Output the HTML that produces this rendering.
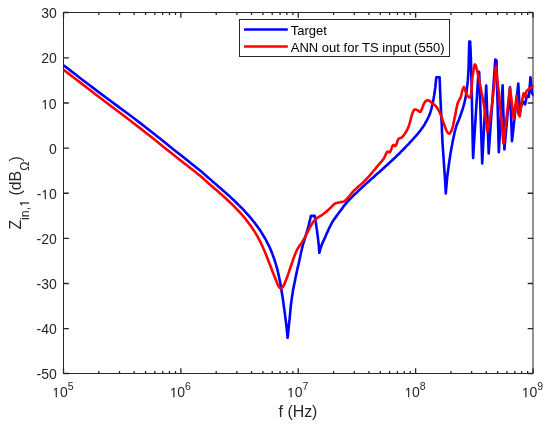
<!DOCTYPE html>
<html><head><meta charset="utf-8"><title>Zin plot</title>
<style>html,body{margin:0;padding:0;background:#fff;}body{width:550px;height:428px;overflow:hidden;}svg{display:block;}</style>
</head><body>
<svg width="550" height="428" viewBox="0 0 550 428"><rect x="0" y="0" width="550" height="428" fill="#fff"/><defs><clipPath id="c"><rect x="63.0" y="12.0" width="470.5" height="362.0"/></clipPath></defs><path d="M63.50,373.5v-5.3M63.50,12.5v5.3M98.83,373.5v-2.6M98.83,12.5v2.6M119.50,373.5v-2.6M119.50,12.5v2.6M134.17,373.5v-2.6M134.17,12.5v2.6M145.54,373.5v-2.6M145.54,12.5v2.6M154.84,373.5v-2.6M154.84,12.5v2.6M162.69,373.5v-2.6M162.69,12.5v2.6M169.50,373.5v-2.6M169.50,12.5v2.6M175.50,373.5v-2.6M175.50,12.5v2.6M180.88,373.5v-5.3M180.88,12.5v5.3M216.21,373.5v-2.6M216.21,12.5v2.6M236.88,373.5v-2.6M236.88,12.5v2.6M251.54,373.5v-2.6M251.54,12.5v2.6M262.92,373.5v-2.6M262.92,12.5v2.6M272.21,373.5v-2.6M272.21,12.5v2.6M280.07,373.5v-2.6M280.07,12.5v2.6M286.88,373.5v-2.6M286.88,12.5v2.6M292.88,373.5v-2.6M292.88,12.5v2.6M298.25,373.5v-5.3M298.25,12.5v5.3M333.58,373.5v-2.6M333.58,12.5v2.6M354.25,373.5v-2.6M354.25,12.5v2.6M368.92,373.5v-2.6M368.92,12.5v2.6M380.29,373.5v-2.6M380.29,12.5v2.6M389.59,373.5v-2.6M389.59,12.5v2.6M397.44,373.5v-2.6M397.44,12.5v2.6M404.25,373.5v-2.6M404.25,12.5v2.6M410.25,373.5v-2.6M410.25,12.5v2.6M415.62,373.5v-5.3M415.62,12.5v5.3M450.96,373.5v-2.6M450.96,12.5v2.6M471.63,373.5v-2.6M471.63,12.5v2.6M486.29,373.5v-2.6M486.29,12.5v2.6M497.67,373.5v-2.6M497.67,12.5v2.6M506.96,373.5v-2.6M506.96,12.5v2.6M514.82,373.5v-2.6M514.82,12.5v2.6M521.63,373.5v-2.6M521.63,12.5v2.6M527.63,373.5v-2.6M527.63,12.5v2.6M533.00,373.5v-5.3M533.00,12.5v5.3M63.5,12.5h5.3M533.0,12.5h-5.3M63.5,57.875h5.3M533.0,57.875h-5.3M63.5,103.0h5.3M533.0,103.0h-5.3M63.5,148.125h5.3M533.0,148.125h-5.3M63.5,193.25h5.3M533.0,193.25h-5.3M63.5,238.375h5.3M533.0,238.375h-5.3M63.5,283.5h5.3M533.0,283.5h-5.3M63.5,328.625h5.3M533.0,328.625h-5.3M63.5,373.5h5.3M533.0,373.5h-5.3" stroke="#262626" stroke-width="1.3" fill="none"/><rect x="63.5" y="12.5" width="469.5" height="361.0" fill="none" stroke="#262626" stroke-width="1"/><g clip-path="url(#c)" fill="none" stroke-linejoin="round" stroke-linecap="butt" stroke-width="2.6"><polyline stroke="#0000ff" points="63.5,65.3 69.6,69.9 75.6,74.5 81.6,79.2 87.7,83.8 93.8,88.4 100.0,93.1 106.6,98.0 113.2,102.9 119.9,107.9 126.6,112.8 133.3,117.8 140.0,122.9 146.9,128.2 153.9,133.7 160.9,139.3 167.7,144.8 174.1,149.9 180.0,154.6 183.8,157.6 187.3,160.3 190.6,163.0 193.8,165.5 196.9,168.0 200.1,170.6 203.1,173.1 206.1,175.8 209.2,178.4 212.0,180.9 214.7,183.2 217.0,185.2 218.1,186.2 219.1,187.1 220.1,187.9 221.0,188.7 221.9,189.5 222.9,190.4 224.3,191.6 225.6,192.8 227.0,194.0 228.4,195.3 229.9,196.6 231.3,197.9 232.7,199.3 234.2,200.6 235.6,202.0 237.1,203.5 238.5,204.9 240.0,206.3 241.4,207.7 242.8,209.2 244.2,210.7 245.5,212.1 246.9,213.6 248.1,215.0 249.2,216.2 250.2,217.4 251.2,218.6 252.2,219.8 253.1,221.0 254.1,222.2 255.2,223.5 256.2,224.9 257.2,226.3 258.2,227.7 259.2,229.1 260.2,230.5 261.0,231.7 261.7,232.9 262.4,234.0 263.1,235.2 263.8,236.3 264.5,237.5 265.2,238.7 265.9,239.9 266.5,241.1 267.1,242.3 267.7,243.5 268.3,244.6 268.7,245.4 269.1,246.2 269.5,247.0 269.8,247.7 270.2,248.6 270.6,249.5 271.2,251.1 272.0,252.9 272.7,254.9 273.5,256.9 274.2,259.0 274.9,261.0 275.5,263.0 276.1,265.1 276.7,267.2 277.3,269.3 277.8,271.4 278.3,273.6 278.8,275.9 279.3,278.3 279.8,280.7 280.3,283.1 280.7,285.6 281.1,288.0 281.5,290.5 281.9,293.0 282.3,295.5 282.7,298.0 283.1,300.5 283.4,302.9 283.7,305.1 284.0,307.2 284.3,309.4 284.6,311.5 284.9,313.6 285.1,315.7 285.4,317.9 285.7,320.1 286.0,322.3 286.2,324.5 286.5,326.6 286.7,328.6 286.9,330.2 287.0,331.8 287.2,333.3 287.3,334.8 287.5,336.3 287.6,337.8 287.8,336.3 287.9,334.8 288.1,333.3 288.3,331.8 288.4,330.2 288.6,328.6 288.8,326.6 289.0,324.5 289.2,322.3 289.5,320.1 289.7,317.9 289.9,315.7 290.1,313.6 290.3,311.4 290.5,309.3 290.7,307.2 290.9,305.0 291.2,302.9 291.5,300.7 291.8,298.4 292.1,296.2 292.5,294.0 292.8,291.9 293.1,290.0 293.3,288.8 293.5,287.7 293.7,286.7 293.9,285.7 294.2,284.6 294.4,283.4 294.8,281.5 295.2,279.5 295.6,277.3 296.1,275.1 296.6,272.9 297.0,270.8 297.4,269.0 297.8,267.1 298.3,265.4 298.7,263.6 299.1,261.8 299.5,260.0 299.9,258.1 300.3,256.2 300.7,254.3 301.0,252.5 301.5,250.6 301.9,248.7 302.4,246.9 302.9,245.0 303.4,243.2 304.0,241.4 304.6,239.6 305.1,237.8 305.6,236.0 306.2,234.2 306.7,232.4 307.3,230.5 307.8,228.7 308.3,226.9 308.8,225.1 309.2,223.2 309.6,221.4 310.1,219.6 310.5,217.7 310.9,215.9 314.7,215.9 315.0,217.9 315.3,219.9 315.7,221.9 316.0,223.9 316.3,226.0 316.6,228.1 317.0,230.6 317.3,233.3 317.7,236.0 318.0,238.7 318.3,241.2 318.6,243.6 318.8,245.3 318.9,246.8 319.0,248.3 319.1,249.8 319.2,251.3 319.3,252.8 319.7,251.6 320.0,250.4 320.3,249.2 320.7,247.9 321.1,246.7 321.5,245.5 322.0,244.2 322.6,242.9 323.1,241.6 323.7,240.3 324.4,238.9 325.0,237.5 325.8,235.7 326.6,233.8 327.5,231.9 328.3,230.0 329.2,228.2 330.0,226.5 330.6,225.3 331.2,224.2 331.7,223.2 332.3,222.2 332.9,221.2 333.5,220.2 334.2,219.2 334.8,218.3 335.5,217.4 336.2,216.4 337.0,215.4 337.8,214.3 339.1,212.5 340.6,210.5 342.1,208.4 343.7,206.2 345.4,204.1 347.1,202.1 348.9,200.2 350.7,198.3 352.6,196.4 354.5,194.5 356.5,192.7 358.4,190.9 360.3,189.1 362.1,187.4 364.0,185.6 365.9,183.9 367.8,182.2 369.7,180.5 371.6,178.8 373.5,177.2 375.3,175.5 377.2,173.8 379.1,172.2 381.0,170.5 382.9,168.8 384.8,167.0 386.8,165.3 388.7,163.5 390.6,161.8 392.5,160.0 394.4,158.2 396.3,156.4 398.2,154.5 400.1,152.7 401.9,150.8 403.7,149.0 405.3,147.3 406.9,145.7 408.5,144.1 410.0,142.4 411.5,140.8 413.0,139.2 414.3,137.7 415.7,136.2 417.0,134.7 418.2,133.2 419.4,131.7 420.5,130.3 421.3,129.2 422.1,128.1 422.9,127.1 423.6,126.0 424.3,124.9 425.0,123.7 425.8,122.2 426.7,120.7 427.5,119.1 428.3,117.5 429.1,115.8 429.8,114.0 430.5,111.9 431.1,109.8 431.7,107.5 432.2,105.3 432.7,103.1 433.1,100.9 433.5,99.0 433.8,97.1 434.2,95.2 434.5,93.3 434.7,91.4 435.0,89.5 435.3,87.5 435.5,85.5 435.7,83.4 435.9,81.4 436.1,79.3 436.3,77.3 439.6,77.3 439.7,80.7 439.9,84.0 440.0,87.4 440.1,90.8 440.3,94.2 440.4,97.7 440.6,101.7 440.8,105.8 441.0,110.0 441.2,114.1 441.4,118.2 441.6,122.2 441.8,125.7 441.9,129.2 442.0,132.6 442.2,135.9 442.3,139.2 442.5,142.5 442.7,145.5 442.9,148.4 443.1,151.3 443.3,154.2 443.5,157.1 443.7,160.0 443.9,162.9 444.1,165.9 444.3,168.9 444.5,171.8 444.7,174.7 444.9,177.6 445.1,180.3 445.2,183.0 445.4,185.6 445.5,188.2 445.7,190.9 445.8,193.5 446.0,190.9 446.2,188.2 446.5,185.6 446.7,183.0 446.9,180.3 447.2,177.6 447.5,174.7 447.9,171.8 448.3,168.8 448.7,165.9 449.1,162.9 449.5,160.0 450.0,157.1 450.4,154.1 450.9,151.2 451.4,148.2 452.0,145.3 452.5,142.5 453.0,139.8 453.6,137.1 454.2,134.4 454.7,131.7 455.4,129.3 456.0,127.0 456.5,125.5 457.0,124.2 457.5,122.9 458.1,121.7 458.6,120.4 459.2,118.9 460.0,116.7 460.9,114.3 461.7,111.8 462.6,109.2 463.4,106.7 464.1,104.2 464.6,102.0 465.1,99.9 465.5,97.7 465.9,95.6 466.3,93.4 466.6,91.1 466.9,88.6 467.2,86.0 467.5,83.4 467.8,80.7 468.0,77.9 468.2,74.8 468.5,69.9 468.7,64.6 468.8,58.9 469.0,53.0 469.1,47.2 469.3,41.5 470.2,41.5 470.3,44.9 470.5,48.0 470.6,51.1 470.7,54.5 470.9,58.3 471.0,62.7 471.3,74.6 471.7,89.4 472.0,106.1 472.4,123.7 472.7,141.3 473.1,158.0 478.5,71.5 479.2,72.0 482.2,163.5 486.2,85.5 488.7,153.5 495.3,59.5 496.5,60.5 498.8,152.3 502.6,85.3 504.4,149.5 510.0,87.2 512.0,141.2 518.3,83.5 519.8,112.5 522.5,100.9 525.0,104.5 526.9,95.7 528.8,97.0 530.5,77.2 532.0,93.2 532.3,93.7 532.7,94.1 533.0,94.6 533.3,95.1 533.7,95.5 534.0,96.0"/><polyline stroke="#ff0000" points="63.5,69.7 69.6,74.4 75.6,79.0 81.6,83.6 87.7,88.3 93.8,93.0 100.0,97.7 106.6,102.7 113.2,107.7 119.9,112.8 126.6,117.8 133.3,123.0 140.0,128.1 146.8,133.5 153.9,139.1 160.9,144.7 167.7,150.2 174.1,155.3 180.0,160.0 183.8,163.0 187.5,165.8 190.9,168.5 194.2,171.0 197.2,173.4 200.1,175.8 202.2,177.5 204.1,179.3 206.0,180.9 207.7,182.5 209.3,183.9 210.7,185.2 211.5,185.9 212.2,186.4 212.8,187.0 213.4,187.5 214.0,188.1 214.8,188.7 216.1,189.8 217.5,191.1 219.1,192.5 220.7,193.9 222.2,195.3 223.7,196.6 225.1,197.8 226.4,199.0 227.7,200.2 229.0,201.4 230.3,202.7 231.6,203.9 232.9,205.2 234.3,206.6 235.6,207.9 236.9,209.3 238.2,210.7 239.5,212.0 240.5,213.1 241.5,214.2 242.4,215.3 243.4,216.4 244.3,217.5 245.4,218.8 246.8,220.7 248.4,222.8 250.1,225.0 251.7,227.3 253.2,229.5 254.6,231.6 255.5,233.2 256.4,234.7 257.3,236.2 258.1,237.7 258.9,239.1 259.7,240.6 260.4,242.0 261.1,243.4 261.7,244.8 262.4,246.2 263.0,247.6 263.6,249.0 264.3,250.5 264.9,252.0 265.5,253.5 266.2,255.0 266.8,256.6 267.4,258.2 268.1,260.0 268.8,261.8 269.5,263.7 270.3,265.6 271.0,267.5 271.7,269.4 272.4,271.3 273.2,273.3 274.0,275.2 274.7,277.1 275.5,278.9 276.1,280.6 276.6,281.7 277.0,282.8 277.4,283.9 277.8,284.9 278.3,285.8 278.7,286.5 279.1,287.0 279.4,287.4 279.8,287.8 280.2,288.1 280.5,288.3 280.9,288.4 281.3,288.3 281.6,288.1 282.0,287.8 282.3,287.4 282.7,287.0 283.0,286.5 283.5,285.8 284.0,284.9 284.4,283.9 284.9,282.9 285.3,281.8 285.8,280.6 286.5,278.8 287.3,276.8 288.0,274.6 288.8,272.4 289.5,270.2 290.3,268.0 291.1,265.8 291.8,263.5 292.6,261.3 293.3,259.0 294.1,256.9 294.8,255.0 295.4,253.6 295.9,252.4 296.5,251.2 297.0,250.0 297.6,248.9 298.2,247.8 298.8,246.9 299.4,246.0 300.0,245.2 300.7,244.4 301.3,243.5 301.9,242.6 302.6,241.5 303.2,240.4 303.8,239.3 304.5,238.1 305.1,237.0 305.7,235.8 306.4,234.5 307.0,233.2 307.6,231.9 308.3,230.6 308.9,229.3 309.6,228.1 310.2,227.0 310.8,225.8 311.4,224.7 312.1,223.7 312.7,222.6 313.4,221.7 314.0,221.0 314.6,220.3 315.3,219.6 316.0,219.0 316.6,218.4 317.3,217.9 317.9,217.5 318.5,217.1 319.2,216.7 319.8,216.4 320.5,216.0 321.1,215.6 321.7,215.2 322.4,214.7 323.0,214.3 323.7,213.8 324.3,213.3 325.0,212.8 326.0,212.0 327.0,211.0 328.1,210.1 329.1,209.1 330.1,208.1 331.1,207.2 331.8,206.5 332.4,205.9 333.0,205.2 333.6,204.6 334.3,204.1 335.0,203.6 335.8,203.3 336.6,203.0 337.5,202.8 338.3,202.6 339.2,202.5 340.0,202.3 340.7,202.1 341.5,202.0 342.2,201.9 342.9,201.7 343.6,201.5 344.3,201.2 345.1,200.6 345.9,199.9 346.7,199.1 347.5,198.2 348.2,197.4 349.0,196.5 349.8,195.6 350.5,194.7 351.2,193.8 352.0,192.8 352.8,191.9 353.7,190.9 355.1,189.6 356.6,188.2 358.2,186.7 359.9,185.3 361.5,183.9 363.0,182.5 364.2,181.3 365.4,180.2 366.5,179.0 367.5,177.8 368.6,176.7 369.6,175.6 370.4,174.6 371.2,173.7 372.0,172.8 372.8,171.9 373.5,170.9 374.3,170.0 375.1,169.1 375.9,168.1 376.6,167.1 377.4,166.2 378.2,165.2 379.0,164.3 379.8,163.4 380.6,162.5 381.4,161.6 382.2,160.6 383.0,159.7 383.7,158.7 384.4,157.5 385.1,156.0 385.7,154.5 386.3,153.2 387.0,152.1 387.6,151.6 387.9,151.6 388.3,151.7 388.6,152.0 388.9,152.2 389.3,152.3 389.6,152.3 390.2,151.6 390.9,150.3 391.5,148.6 392.1,146.9 392.7,145.6 393.3,145.0 393.6,145.0 394.0,145.2 394.3,145.6 394.6,145.9 395.0,146.1 395.3,146.1 395.9,145.5 396.4,144.3 396.9,142.8 397.4,141.2 398.0,139.8 398.6,138.8 399.0,138.5 399.5,138.3 400.0,138.2 400.5,138.1 400.9,137.9 401.4,137.7 402.0,137.2 402.5,136.7 403.1,136.1 403.6,135.4 404.1,134.7 404.6,134.0 405.1,133.3 405.6,132.5 406.1,131.8 406.5,131.0 407.0,130.2 407.4,129.3 407.8,128.3 408.3,127.3 408.7,126.2 409.1,125.1 409.4,124.0 409.8,122.8 410.2,121.4 410.6,120.0 410.9,118.5 411.3,117.0 411.7,115.6 412.1,114.3 412.4,113.3 412.8,112.4 413.2,111.5 413.6,110.6 414.0,110.0 414.5,109.6 414.9,109.5 415.4,109.5 415.9,109.6 416.4,109.7 416.8,109.9 417.3,110.1 417.8,110.4 418.3,110.8 418.7,111.3 419.2,111.7 419.7,112.0 420.1,112.0 420.8,111.4 421.4,110.2 422.1,108.6 422.7,106.9 423.2,105.2 423.8,104.0 424.1,103.4 424.4,102.9 424.7,102.4 425.0,101.9 425.3,101.5 425.7,101.2 426.0,100.9 426.4,100.7 426.8,100.5 427.2,100.4 427.6,100.3 428.0,100.3 428.5,100.4 429.1,100.7 429.6,101.2 430.2,101.6 430.8,102.1 431.4,102.6 432.2,103.2 433.0,103.8 433.9,104.4 434.7,105.1 435.5,105.9 436.3,106.7 437.1,107.7 437.8,108.9 438.5,110.1 439.1,111.3 439.8,112.6 440.4,114.0 441.1,115.8 441.8,117.7 442.5,119.7 443.2,121.8 443.8,123.7 444.5,125.5 445.0,126.9 445.6,128.3 446.1,129.7 446.7,131.0 447.2,132.0 447.8,132.8 448.1,133.1 448.3,133.3 448.6,133.5 448.9,133.6 449.1,133.6 449.4,133.6 449.8,133.3 450.3,132.8 450.7,132.2 451.1,131.3 451.5,130.4 451.9,129.5 452.5,127.7 453.1,125.5 453.6,123.1 454.1,120.6 454.6,118.1 455.1,115.7 455.6,113.4 456.0,111.1 456.4,108.8 456.9,106.5 457.3,104.4 457.9,102.6 458.4,101.5 458.9,100.5 459.4,99.6 459.9,98.8 460.4,97.9 460.8,96.9 461.2,95.8 461.4,94.6 461.7,93.3 461.9,92.1 462.2,91.0 462.5,90.0 462.7,89.4 463.0,88.7 463.2,88.1 463.5,87.6 463.7,87.2 464.0,87.1 464.3,87.5 464.7,88.3 465.0,89.5 465.4,90.9 465.7,92.2 466.1,93.2 466.4,93.8 466.6,94.4 466.9,95.0 467.2,95.5 467.5,96.0 467.9,96.4 468.2,96.7 468.6,97.0 469.0,97.2 469.4,97.4 469.8,97.4 470.1,97.3 470.8,95.8 471.3,92.8 471.6,88.8 471.9,84.5 472.1,80.2 472.5,76.7 472.9,74.2 473.3,71.5 473.7,68.8 474.1,66.6 474.5,65.0 475.0,64.4 475.4,64.8 475.9,65.9 476.3,67.5 476.7,69.4 477.2,71.3 477.6,73.0 478.0,74.8 478.4,76.6 478.8,78.4 479.2,80.3 479.6,82.2 480.0,84.2 480.5,86.6 481.0,89.1 481.4,91.7 481.9,94.3 482.4,96.8 482.8,99.2 483.1,101.1 483.5,102.8 483.8,104.5 484.1,106.2 484.4,108.0 484.7,110.0 485.1,113.2 485.6,116.6 486.0,120.3 486.5,124.1 486.9,127.8 487.4,131.5 487.9,128.8 488.5,126.1 489.0,123.4 489.5,120.6 490.0,117.8 490.5,115.0 491.0,111.8 491.4,108.6 491.9,105.3 492.3,102.0 492.7,98.6 493.1,95.0 493.6,90.5 494.1,85.9 494.5,81.1 495.0,76.2 495.4,71.3 495.9,66.5 496.4,71.2 496.9,75.7 497.4,80.3 497.9,84.9 498.5,89.8 499.0,95.0 499.7,102.3 500.5,110.2 501.2,118.4 502.0,126.9 502.7,135.3 503.5,143.5 510.0,88.0 513.8,119.0 516.6,95.7 516.9,98.9 517.2,102.4 517.4,105.8 517.7,109.0 518.1,111.8 518.5,113.8 518.7,114.4 518.9,114.8 519.1,115.2 519.4,115.6 519.6,115.9 519.8,116.3 520.1,113.9 520.4,111.5 520.7,109.0 521.0,106.7 521.3,104.4 521.7,102.2 522.0,100.6 522.3,99.0 522.7,97.6 523.0,96.1 523.4,94.7 523.7,93.2 525.3,97.0 525.5,95.9 525.8,94.7 526.0,93.5 526.2,92.3 526.5,91.4 526.9,90.6 527.2,90.3 527.5,90.0 527.8,89.8 528.1,89.7 528.5,89.5 528.8,89.3 529.1,89.1 529.4,88.9 529.7,88.7 530.0,88.5 530.4,88.2 530.7,88.0 531.2,87.6 531.7,87.2 532.3,86.8 532.9,86.3 533.4,85.8 534.0,85.4"/></g><style>.o{font-family:NanumGothic,"Liberation Sans",sans-serif;font-size:0.93em;stroke-width:0.3px;stroke-linejoin:round}</style><g font-family="'Liberation Sans', Arial, Helvetica, sans-serif" fill="#262626" font-size="14"><text x="56.8" y="18.3" text-anchor="end">30</text><text x="56.8" y="63.4" text-anchor="end">20</text><text x="56.8" y="108.5" text-anchor="end"><tspan class="o" stroke="#262626" dx="-0.2">1</tspan>0</text><text x="56.8" y="153.7" text-anchor="end">0</text><text x="56.8" y="198.8" text-anchor="end">-<tspan class="o" stroke="#262626" dx="-0.2">1</tspan>0</text><text x="56.8" y="243.9" text-anchor="end">-20</text><text x="56.8" y="289.1" text-anchor="end">-30</text><text x="56.8" y="334.2" text-anchor="end">-40</text><text x="56.8" y="379.3" text-anchor="end">-50</text><text x="63.0" y="397" text-anchor="middle"><tspan class="o" stroke="#262626" dx="-0.2">1</tspan>0<tspan font-size="10.5" dy="-7.2">5</tspan></text><text x="180.4" y="397" text-anchor="middle"><tspan class="o" stroke="#262626" dx="-0.2">1</tspan>0<tspan font-size="10.5" dy="-7.2">6</tspan></text><text x="297.8" y="397" text-anchor="middle"><tspan class="o" stroke="#262626" dx="-0.2">1</tspan>0<tspan font-size="10.5" dy="-7.2">7</tspan></text><text x="415.1" y="397" text-anchor="middle"><tspan class="o" stroke="#262626" dx="-0.2">1</tspan>0<tspan font-size="10.5" dy="-7.2">8</tspan></text><text x="532.5" y="397" text-anchor="middle"><tspan class="o" stroke="#262626" dx="-0.2">1</tspan>0<tspan font-size="10.5" dy="-7.2">9</tspan></text><text x="298.0" y="417.3" text-anchor="middle" font-size="15.9">f (Hz)</text><text transform="translate(21.1,229.6) rotate(-90)" font-size="15.9">Z<tspan font-size="12.4" dy="7.4">in,<tspan class="o" stroke="#262626" dx="-0.15">1</tspan></tspan><tspan dy="-7.4"> (dB</tspan><tspan font-size="12.4" dy="7.4">&#937;</tspan><tspan dy="-7.4">)</tspan></text></g><rect x="239.5" y="19.5" width="210" height="37" fill="#fff" stroke="#262626" stroke-width="1"/><line x1="244" y1="29.5" x2="287.8" y2="29.5" stroke="#0000ff" stroke-width="2.6"/><line x1="244" y1="46.5" x2="287.8" y2="46.5" stroke="#ff0000" stroke-width="2.6"/><g font-family="'Liberation Sans', Arial, Helvetica, sans-serif" fill="#000" font-size="13"><text x="290.8" y="35.3">Target</text><text x="290.8" y="51.8">ANN out for TS input (550)</text></g></svg>
</body></html>
